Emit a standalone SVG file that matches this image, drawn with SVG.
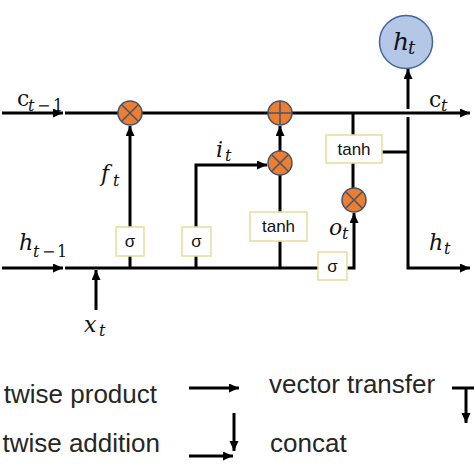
<svg xmlns="http://www.w3.org/2000/svg" width="474" height="474" viewBox="0 0 474 474">
<style>
.ln{stroke:#000;stroke-width:3;fill:none}
.ar{marker-end:url(#ah)}
.op{fill:#ED7D31;stroke:#44546A;stroke-width:1.5}
.cr{stroke:#44546A;stroke-width:1.5}
.bx{fill:#fff;stroke:#E8DC9C;stroke-width:1.5}
.bt{font-family:"Liberation Sans",Arial,sans-serif;font-size:17px;fill:#111;text-anchor:middle}
.m{font-family:"DejaVu Serif","Liberation Serif",serif;font-style:italic;font-size:22px;fill:#111}
.s{font-size:16px}
.u{font-style:normal}
.lg{font-family:"Liberation Sans",Arial,sans-serif;font-size:26px;fill:#262626}
</style>
<defs>
<marker id="ah" markerUnits="userSpaceOnUse" markerWidth="11" markerHeight="10" refX="10" refY="4.5" orient="auto">
<path d="M0,0 L10,4.5 L0,9 z" fill="#000"/>
</marker>
</defs>
<g id="connectors">
<line class="ln ar" x1="2" y1="113" x2="63" y2="113"/>
<line class="ln ar" x1="65" y1="113" x2="470" y2="113"/>
<line class="ln ar" x1="2" y1="268" x2="63" y2="268"/>
<line class="ln" x1="65" y1="268" x2="318" y2="268"/>
<line class="ln ar" x1="96" y1="310" x2="96" y2="270"/>
<line class="ln" x1="130" y1="256" x2="130" y2="268"/>
<line class="ln ar" x1="130" y1="227" x2="130" y2="126"/>
<line class="ln" x1="196" y1="256" x2="196" y2="268"/>
<polyline class="ln ar" points="196,227 196,165 267,165"/>
<line class="ln" x1="280" y1="268" x2="280" y2="241"/>
<line class="ln" x1="280" y1="212" x2="280" y2="175"/>
<line class="ln ar" x1="280" y1="151" x2="280" y2="126"/>
<line class="ln" x1="353" y1="113" x2="353" y2="135"/>
<line class="ln" x1="353" y1="163" x2="353" y2="188"/>
<polyline class="ln ar" points="347,268 354,268 354,213"/>
<line class="ln" x1="382" y1="152" x2="408" y2="152"/>
<polyline class="ln ar" points="408,117 408,268 470,268"/>
<line class="ln ar" x1="408" y1="109" x2="408" y2="69"/>
</g>
<g id="mul_f">
<circle class="op" cx="130" cy="113" r="12"/>
<line class="cr" x1="121.5" y1="104.5" x2="138.5" y2="121.5"/>
<line class="cr" x1="138.5" y1="104.5" x2="121.5" y2="121.5"/>
</g>
<g id="add_c">
<circle class="op" cx="280" cy="113" r="12"/>
<line class="cr" x1="268" y1="113" x2="292" y2="113"/>
<line class="cr" x1="280" y1="101" x2="280" y2="125"/>
</g>
<g id="mul_i">
<circle class="op" cx="280" cy="163" r="12"/>
<line class="cr" x1="271.5" y1="154.5" x2="288.5" y2="171.5"/>
<line class="cr" x1="288.5" y1="154.5" x2="271.5" y2="171.5"/>
</g>
<g id="mul_o">
<circle class="op" cx="354" cy="200" r="12"/>
<line class="cr" x1="345.5" y1="191.5" x2="362.5" y2="208.5"/>
<line class="cr" x1="362.5" y1="191.5" x2="345.5" y2="208.5"/>
</g>
<g id="sigma_f">
<rect class="bx" x="116" y="227" width="28" height="29"/>
<text class="bt" x="130" y="247">σ</text>
</g>
<g id="sigma_i">
<rect class="bx" x="182" y="227" width="29" height="29"/>
<text class="bt" x="196.5" y="247">σ</text>
</g>
<g id="tanh_g">
<rect class="bx" x="250" y="212" width="57" height="29"/>
<text class="bt" x="278.5" y="232">tanh</text>
</g>
<g id="sigma_o">
<rect class="bx" x="318" y="252" width="29" height="28"/>
<text class="bt" x="332.5" y="272">σ</text>
</g>
<g id="tanh_c">
<rect class="bx" x="326" y="135" width="56" height="28"/>
<text class="bt" x="354" y="155">tanh</text>
</g>
<g id="h_out">
<circle cx="406" cy="42" r="26.5" fill="#B4C7E7" stroke="#41669E" stroke-width="1.5"/>
<text class="m" x="393" y="50" style="font-size:25px">h<tspan class="s" x="408" y="54" style="font-size:18px">t</tspan></text>
</g>
<g id="labels">
<text class="m" x="17" y="106"><tspan class="u">c</tspan><tspan class="s" x="28" y="111">t</tspan><tspan class="s u" x="37" y="111">−</tspan><tspan class="s u" x="53" y="111">1</tspan></text>
<text class="m" x="19" y="250">h<tspan class="s" x="33" y="257">t</tspan><tspan class="s u" x="42" y="257">−</tspan><tspan class="s u" x="57" y="257">1</tspan></text>
<text class="m" x="101" y="181">f<tspan class="s" x="113" y="186">t</tspan></text>
<text class="m" x="216" y="157">i<tspan class="s" x="225" y="161">t</tspan></text>
<text class="m" x="329" y="235">o<tspan class="s" x="342" y="239">t</tspan></text>
<text class="m" x="429" y="107"><tspan class="u">c</tspan><tspan class="s" x="441" y="111">t</tspan></text>
<text class="m" x="429" y="250">h<tspan class="s" x="444" y="254">t</tspan></text>
<text class="m" x="84" y="332">x<tspan class="s" x="99" y="336">t</tspan></text>
</g>
<g id="legend">
<text class="lg" x="157" y="403" text-anchor="end">twise product</text>
<text class="lg" x="160" y="452" text-anchor="end">twise addition</text>
<line class="ln ar" x1="189" y1="388" x2="239" y2="388"/>
<line class="ln ar" x1="234" y1="413" x2="234" y2="451"/>
<line class="ln ar" x1="189" y1="456" x2="233" y2="456"/>
<text class="lg" x="269" y="393">vector transfer</text>
<text class="lg" x="270" y="452">concat</text>
<line class="ln" x1="452" y1="388" x2="476" y2="388"/>
<line class="ln ar" x1="466" y1="388" x2="466" y2="423"/>
</g>
</svg>
